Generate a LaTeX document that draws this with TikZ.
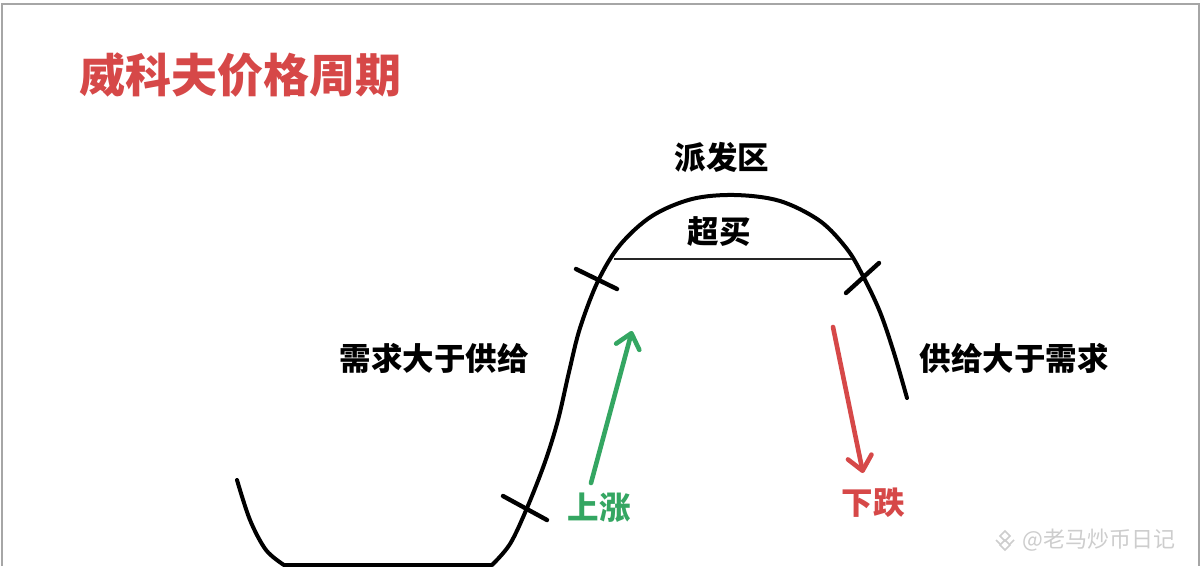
\documentclass[tikz,border=0pt]{standalone}
\usepackage{fontspec}
\newfontfamily\cjk{Noto Sans CJK SC}
\usetikzlibrary{arrows.meta}
\definecolor{tred}{RGB}{214,72,72}
\definecolor{tgreen}{RGB}{52,166,98}
\definecolor{wm}{RGB}{205,205,205}
\tikzset{
  curve/.style={line width=4pt, line cap=round, line join=round, black},
  tickmark/.style={line width=4.4pt, line cap=round, black},
  lbl/.style={font=\cjk\bfseries\fontsize{31.5}{33}\selectfont, inner sep=0pt},
  trendarrow/.style={line width=4.6pt, line cap=round, -{Straight Barb[length=14pt,width=24pt,line width=4.6pt, round]}},
}
\begin{document}
\begin{tikzpicture}[x=1pt,y=-1pt]
\useasboundingbox (0,0) rectangle (1202,566);
\fill[white] (0,0) rectangle (1202,566);
% frame
\draw[gray!70, line width=1.8pt] (2,566) -- (2,4) -- (1199,4) -- (1199,566);
% title
\node[font=\cjk\bfseries\fontsize{46}{48}\selectfont, text=tred, inner sep=0pt] (title) at (240,75) {威科夫价格周期};
% main curve
\draw[curve] plot[smooth, tension=0.55] coordinates {(237,480) (250,520) (266,550) (284,565)} -- (492,565)
  plot[smooth, tension=0.55] coordinates {(492,565) (510,544) (527,508) (545,462) (558,420) (569,372) (580,328) (598,281) (620,245) (652,216) (692,199) (735,195) (780,201) (820,221) (847,249) (863,276) (880,312) (894,353) (907,398)};
% overbought line
\coordinate (ol) at (614,259);
\coordinate (or) at (852,259);
\draw[line width=1.3pt, black!85] (ol) -- (or);
% tick marks
\draw[tickmark] (503,496) -- (547,520);
\draw[tickmark] (576,269) -- (617,289);
\draw[tickmark] (846,293) -- (879,263);
% arrows
\coordinate (gs) at (591,483);
\coordinate (ge) at (632,331);
\draw[trendarrow, tgreen] (gs) -- (ge);
\coordinate (rs) at (833,327);
\coordinate (re) at (863,473);
\draw[trendarrow, tred] (rs) -- (re);
% labels
\node[lbl] (pf) at (722,157) {派发区};
\node[lbl] (cm) at (719,232) {超买};
\node[lbl] (xq) at (434,358) {需求大于供给};
\node[lbl] (gj) at (1014,358) {供给大于需求};
\node[lbl, text=tgreen] (sz) at (599,508) {上涨};
\node[lbl, text=tred] (xd) at (873,503) {下跌};
% watermark
\node[font=\cjk\fontsize{22}{24}\selectfont, text=wm, inner sep=0pt, anchor=west] (wmk) at (1022,540) {@老马炒币日记};
\begin{scope}[wm, line width=1.6pt]
  \draw (1005,531) -- (1010,536) -- (1005,541) -- (1000,536) -- cycle;
  \draw (1005,540) -- (1010,545) -- (1005,550) -- (1000,545) -- cycle;
  \draw (996,540) -- (1000,544);
  \draw (1014,540) -- (1010,544);
\end{scope}
\end{tikzpicture}
\end{document}
